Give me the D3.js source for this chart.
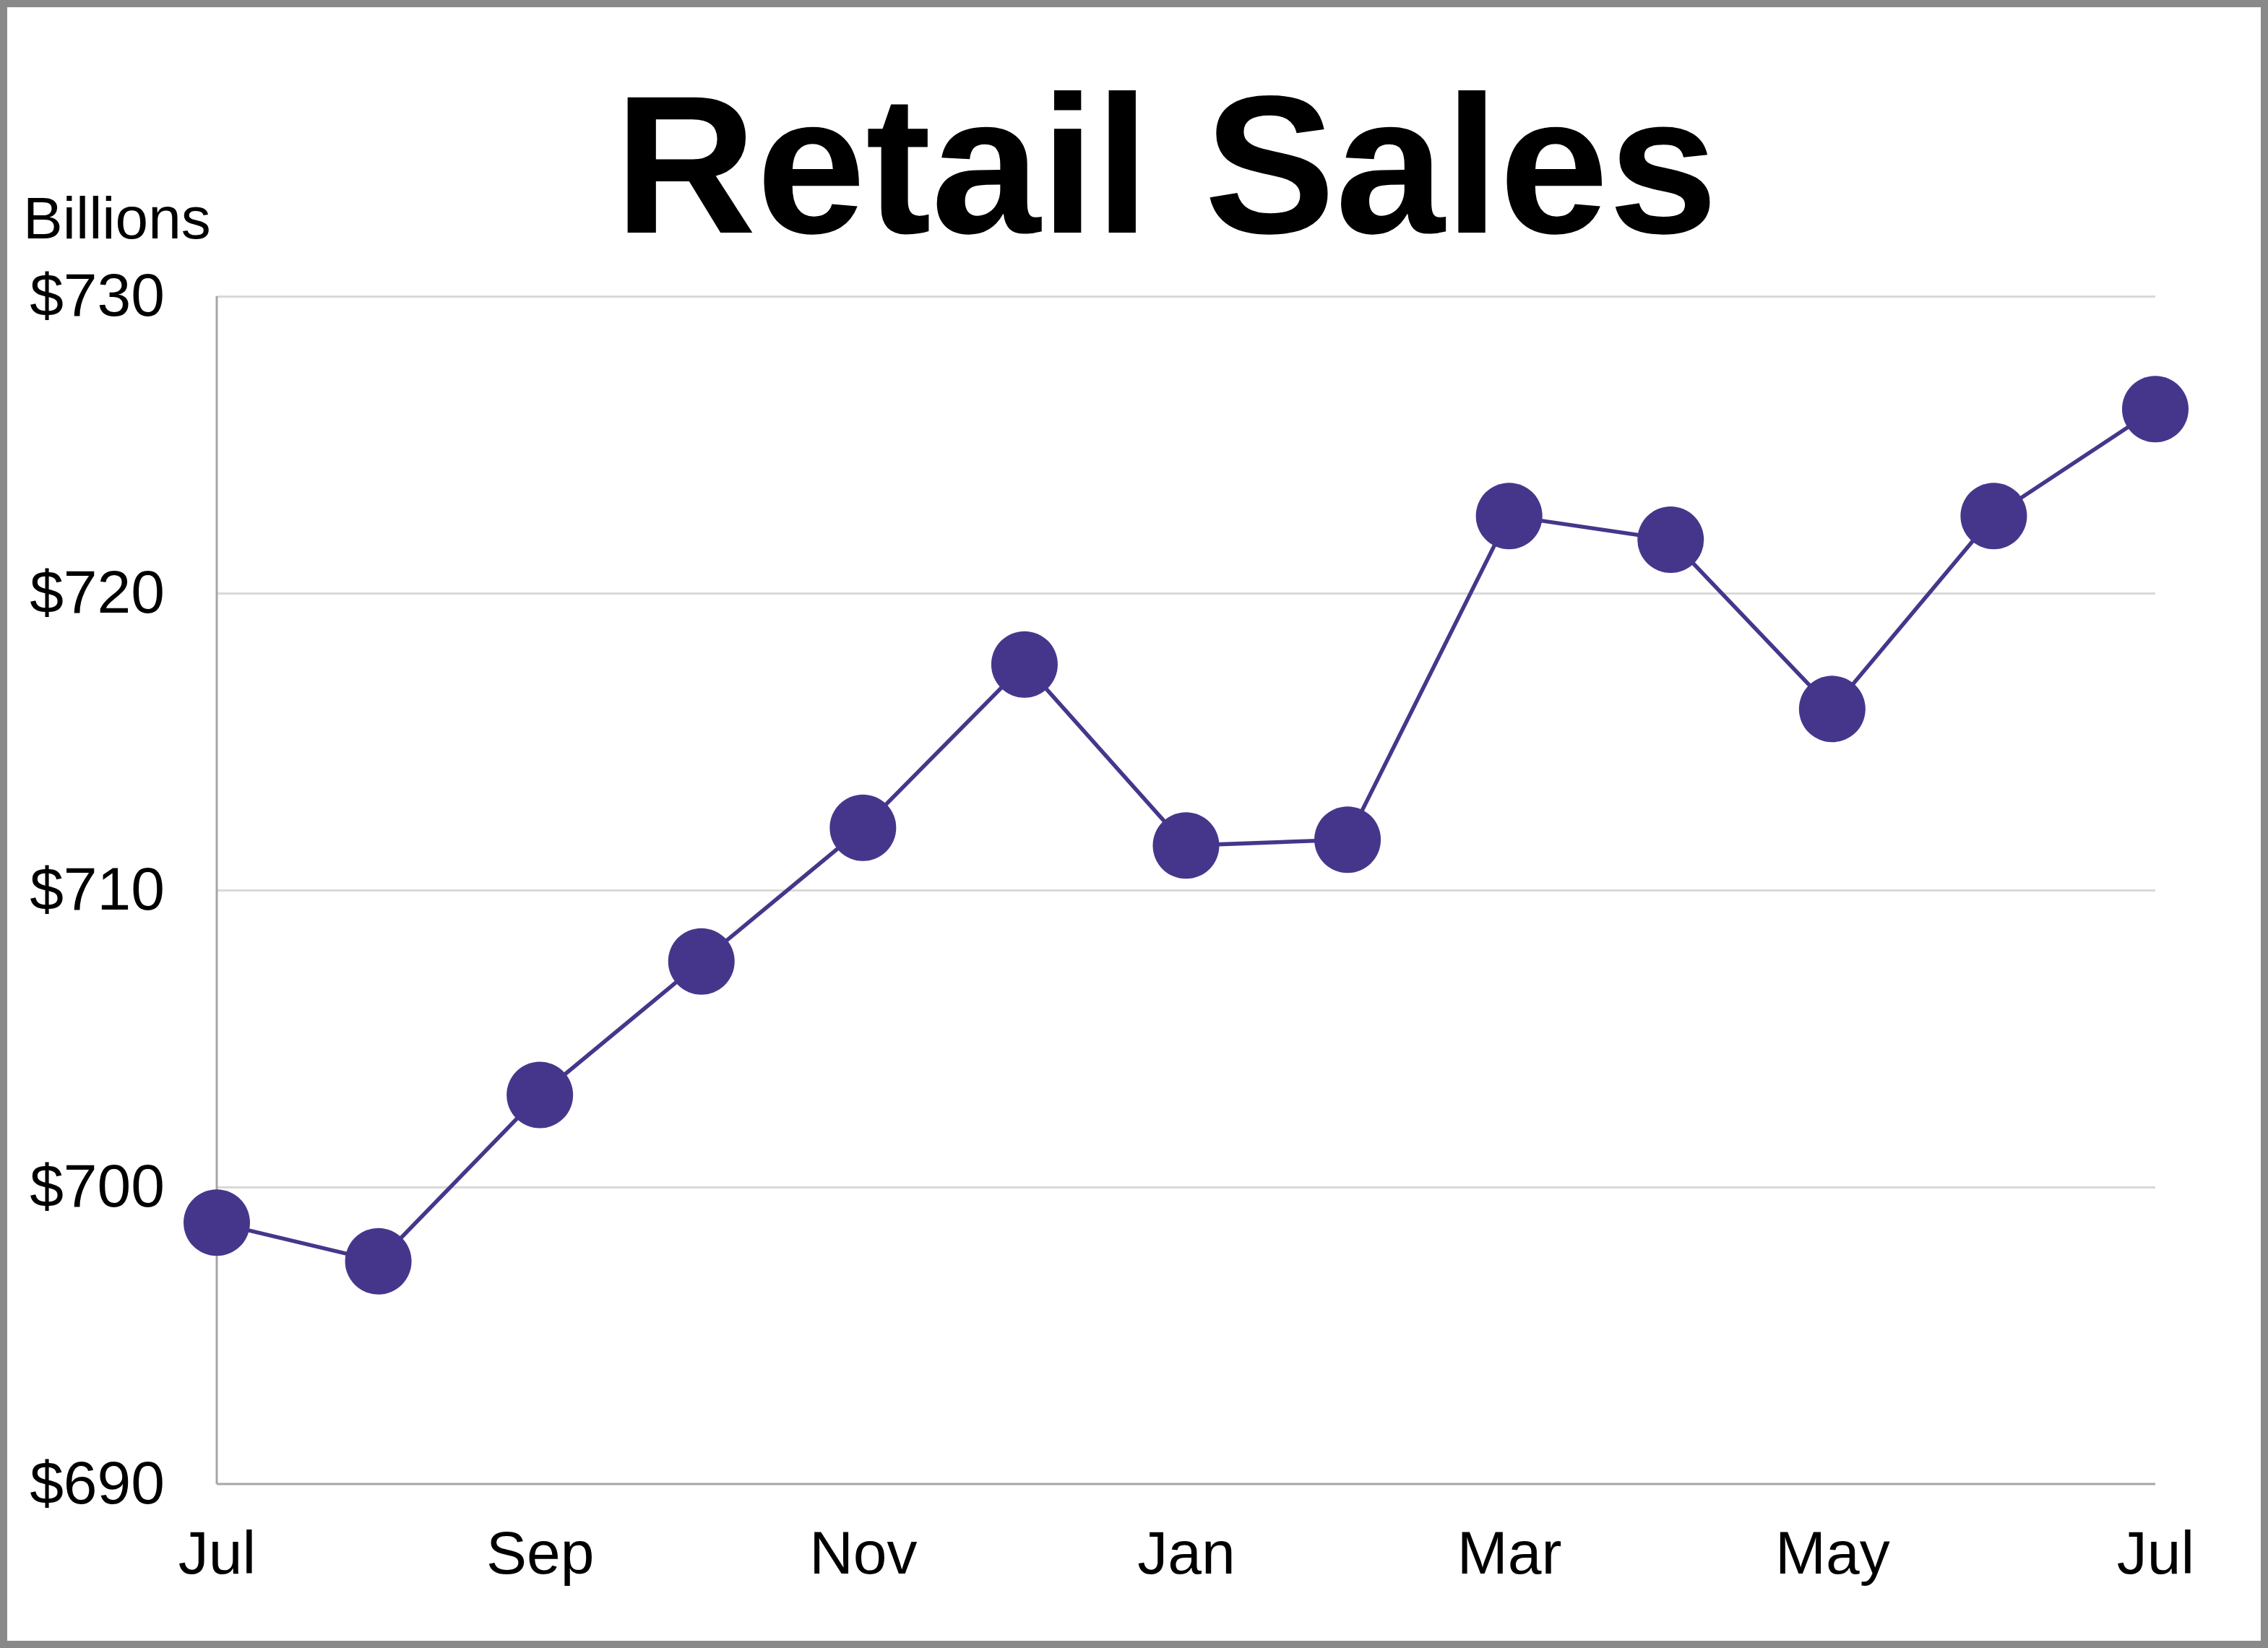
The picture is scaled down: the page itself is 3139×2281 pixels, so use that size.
<html>
<head>
    <script src="https://d3js.org/d3.v7.min.js"></script>
    <style>
        body {
            margin: 0;
            font-family: "Liberation Sans", Arial, sans-serif;
            background: #fff;
        }

        .gridlines line {
            stroke: #d9d9d9;
            stroke-width: 3;
        }

        .gridlines .domain {
            stroke: none;
        }

        .axis .domain {
            stroke: #a6a6a6;
            stroke-width: 3;
        }

        .axis line {
            stroke: none;
        }

        .axis text {
            font-family: "Liberation Sans", Arial, sans-serif;
            font-size: 84px;
            fill: #000;
        }
    </style>
</head>

<body>
    <svg width="3139" height="2281"></svg>
    <script>
        // data
        const months = ["Jul", "Aug", "Sep", "Oct", "Nov", "Dec", "Jan", "Feb", "Mar", "Apr", "May", "Jun", "Jul"];
        const sales = [698.8, 697.5, 703.1, 707.6, 712.1, 717.6, 711.5, 711.7, 722.6, 721.8, 716.1, 722.6, 726.2];
        const yTicks = [690, 700, 710, 720, 730];
        const xTickIdx = [0, 2, 4, 6, 8, 10, 12];

        const width = 3139;
        const height = 2281;
        const margin = { top: 410, right: 156, bottom: 227, left: 300 };
        const chartWidth = width - margin.left - margin.right;
        const chartHeight = height - margin.top - margin.bottom;

        const root = d3.select("svg");

        // outer frame
        root.append("rect")
            .attr("x", 5).attr("y", 5)
            .attr("width", width - 10).attr("height", height - 10)
            .attr("fill", "#fff")
            .attr("stroke", "#898989")
            .attr("stroke-width", 10);

        root.append("text")
            .attr("x", 1614)
            .attr("y", 322)
            .attr("text-anchor", "middle")
            .style("font-family", "'Liberation Sans', Arial, sans-serif")
            .style("font-weight", "bold")
            .style("font-size", "272px")
            .text("Retail Sales");

        root.append("text")
            .attr("x", 32)
            .attr("y", 330)
            .style("font-size", "82px")
            .text("Billions");

        const svg = root.append("g")
            .attr("transform", `translate(${margin.left},${margin.top})`);

        const xScale = d3.scalePoint()
            .domain(d3.range(months.length))
            .range([0, chartWidth]);

        const yScale = d3.scaleLinear()
            .domain([690, 730])
            .range([chartHeight, 0]);

        // gridlines
        svg.append("g")
            .attr("class", "gridlines")
            .call(d3.axisLeft(yScale).tickValues(yTicks.slice(1)).tickSize(-chartWidth).tickFormat(""));

        // axes
        svg.append("g")
            .attr("class", "axis")
            .call(d3.axisLeft(yScale).tickValues(yTicks).tickSize(0).tickPadding(72).tickFormat(d => "$" + d))
            .call(g => g.select(".domain").attr("d", `M0,0V${chartHeight}`));

        svg.append("g")
            .attr("class", "axis")
            .attr("transform", `translate(0,${chartHeight})`)
            .call(d3.axisBottom(xScale).tickValues(xTickIdx).tickSize(0).tickPadding(64).tickFormat(i => months[i]))
            .call(g => g.select(".domain").attr("d", `M0,0H${chartWidth}`));

        const line = d3.line()
            .x((d, i) => xScale(i))
            .y(d => yScale(d));

        svg.append("path")
            .datum(sales)
            .attr("d", line)
            .attr("fill", "none")
            .attr("stroke", "#46368b")
            .attr("stroke-width", 5.5);

        svg.append("g")
            .selectAll("circle")
            .data(sales)
            .join("circle")
            .attr("cx", (d, i) => xScale(i))
            .attr("cy", d => yScale(d))
            .attr("r", 46)
            .attr("fill", "#46368b");
    </script>
</body>
</html>
